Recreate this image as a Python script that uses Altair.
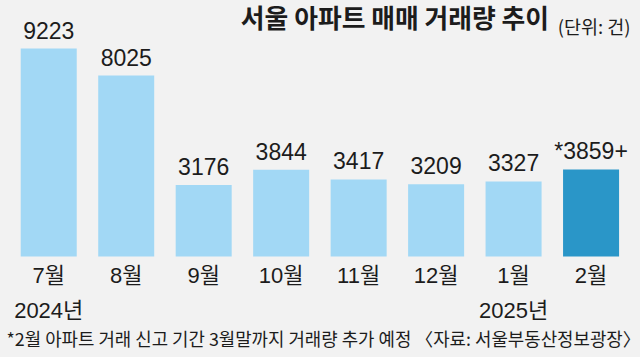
import altair as alt
import pandas as pd

months = ["7월", "8월", "9월", "10월", "11월", "12월", "1월", "2월"]
years = {"7월": "2024년", "1월": "2025년"}
values = [9223, 8025, 3176, 3844, 3417, 3209, 3327, 3859]
value_labels = ["9223", "8025", "3176", "3844", "3417", "3209", "3327", "*3859+"]
status = ["확정", "확정", "확정", "확정", "확정", "확정", "확정", "잠정"]

title_text = "서울 아파트 매매 거래량 추이"
unit_text = "(단위: 건)"
footnote = "*2월 아파트 거래 신고 기간 3월말까지 거래량 추가 예정  〈자료: 서울부동산정보광장〉"

df = pd.DataFrame({"month": months, "value": values, "label": value_labels, "status": status})

NUM_FONT = "Liberation Sans Narrow, Liberation Sans, Noto Sans CJK KR"
KR_FONT = "Noto Sans CJK KR"
INK = "#1c1c1c"

label_expr = " : ".join(
    [f"datum.value == '{m}' ? ['{m}', '{y}']" for m, y in years.items()]
) + " : datum.value"

x = alt.X(
    "month:N",
    sort=months,
    scale=alt.Scale(paddingInner=0.277, paddingOuter=0.1385),
    axis=alt.Axis(
        title=footnote,
        titleFont=KR_FONT,
        titleFontSize=17.85,
        titleFontWeight="normal",
        titleColor=INK,
        titleAlign="left",
        titleAnchor="start",
        titleBaseline="alphabetic",
        titleX=-4,
        titleY=89,
        labelExpr=label_expr,
        labelFont=NUM_FONT,
        labelFontSize=22,
        labelColor=INK,
        labelBaseline="alphabetic",
        labelLineHeight=35,
        labelPadding=26,
        labelAngle=0,
        ticks=False,
        domain=False,
        grid=False,
    ),
)

y = alt.Y(
    "value:Q",
    scale=alt.Scale(domain=[0, 10000], nice=False),
    axis=alt.Axis(
        title=unit_text,
        titleFont=KR_FONT,
        titleFontSize=18.5,
        titleFontWeight="normal",
        titleColor=INK,
        titleAngle=0,
        titleAlign="right",
        titleBaseline="alphabetic",
        titleX=620,
        titleY=2,
        labels=False,
        ticks=False,
        domain=False,
        grid=False,
    ),
)

base = alt.Chart(df)

bars = base.mark_bar().encode(
    x=x,
    y=y,
    color=alt.Color(
        "status:N",
        scale=alt.Scale(domain=["확정", "잠정"], range=["#a2d8f5", "#2a96c8"]),
        legend=None,
    ),
)

texts = base.mark_text(
    baseline="alphabetic", dy=-10, font=NUM_FONT, fontSize=23, color=INK
).encode(x=alt.X("month:N", sort=months), y="value:Q", text="label:N")

chart = (
    alt.layer(bars, texts)
    .properties(
        width=619.8,
        height=225.5,
        padding={"left": 10, "top": 31, "right": 10.2, "bottom": 100.5},
        autosize=alt.AutoSizeParams(type="none"),
        background="#f2f2f2",
        title=alt.TitleParams(
            text=title_text,
            anchor="end",
            orient="top",
            font=KR_FONT,
            fontSize=25.8,
            fontWeight="bold",
            color=INK,
            baseline="alphabetic",
            offset=-36,
            dx=-95,
        ),
    )
    .configure_view(stroke=None)
)

chart.save("out.html", embed_options={"renderer": "svg", "actions": False})
